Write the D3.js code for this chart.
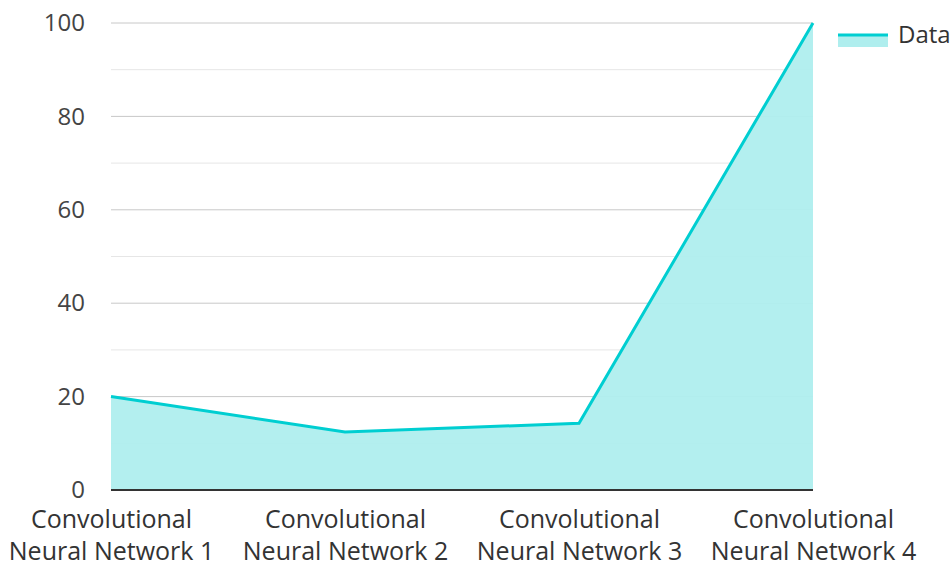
<!DOCTYPE html>
<html>
<head>
<meta charset="utf-8">
<script src="https://cdn.jsdelivr.net/npm/d3@7"></script>
<style>
  html, body { margin: 0; padding: 0; background: #fff; }
  svg text { font-family: "Open Sans", "Noto Sans", sans-serif; }
</style>
</head>
<body>
<svg id="chart" width="952" height="562"></svg>
<script>
// Model categories and their scores
const categories = [
  "Convolutional Neural Network 1",
  "Convolutional Neural Network 2",
  "Convolutional Neural Network 3",
  "Convolutional Neural Network 4"
];
const values = [20, 12.4, 14.3, 100];
const yTicks = [0, 20, 40, 60, 80, 100];
const yMinorTicks = [10, 30, 50, 70, 90];
const seriesName = "Data";

const svg = d3.select("#chart");
const margin = { left: 111, right: 139, top: 23, bottom: 72 };
const W = 952, H = 562;

const x = d3.scalePoint()
  .domain(categories)
  .range([margin.left, W - margin.right]);
const y = d3.scaleLinear()
  .domain([0, 100])
  .range([H - margin.bottom, margin.top]);

const lineColor = "#00CED1";
const fillColor = "#AFEEEE";

// minor gridlines
svg.append("g")
  .selectAll("line")
  .data(yMinorTicks)
  .join("line")
  .attr("x1", margin.left).attr("x2", W - margin.right)
  .attr("y1", d => y(d)).attr("y2", d => y(d))
  .attr("stroke", "#e6e6e6").attr("stroke-width", 1);

// major gridlines
svg.append("g")
  .selectAll("line")
  .data(yTicks.filter(d => d !== 0))
  .join("line")
  .attr("x1", margin.left).attr("x2", W - margin.right)
  .attr("y1", d => y(d)).attr("y2", d => y(d))
  .attr("stroke", "#c8c8c8").attr("stroke-width", 1);

// area fill
const area = d3.area()
  .x((d, i) => x(categories[i]))
  .y0(y(0))
  .y1(d => y(d));
svg.append("path")
  .datum(values)
  .attr("d", area)
  .attr("fill", fillColor)
  .attr("fill-opacity", 0.95);

// series line
const line = d3.line()
  .x((d, i) => x(categories[i]))
  .y(d => y(d));
svg.append("path")
  .datum(values)
  .attr("d", line)
  .attr("fill", "none")
  .attr("stroke", lineColor)
  .attr("stroke-width", 3)
  .attr("stroke-linejoin", "miter");

// baseline
svg.append("line")
  .attr("x1", margin.left).attr("x2", W - margin.right)
  .attr("y1", y(0)).attr("y2", y(0))
  .attr("stroke", "#333333").attr("stroke-width", 2);

// y tick labels
const yAxis = d3.axisLeft(y).tickValues(yTicks).tickSize(0).tickPadding(26);
const gy = svg.append("g")
  .attr("transform", `translate(${margin.left},0)`)
  .call(yAxis);
gy.select(".domain").remove();
gy.selectAll("text")
  .attr("font-size", 24)
  .attr("fill", "#444")
  .attr("font-family", "'Open Sans', 'Noto Sans', sans-serif");

// x tick labels, two lines each
const xAxis = d3.axisBottom(x).tickSize(0).tickFormat("");
const gx = svg.append("g")
  .attr("transform", `translate(0,${y(0)})`)
  .call(xAxis);
gx.select(".domain").remove();
gx.selectAll(".tick").each(function(d) {
  const words = d.split(" ");
  const lines = [words[0], words.slice(1).join(" ")];
  const t = d3.select(this).append("text")
    .attr("text-anchor", "middle")
    .attr("font-size", 25)
    .attr("fill", "#333")
    .attr("font-family", "'Open Sans', 'Noto Sans', sans-serif");
  t.selectAll("tspan")
    .data(lines)
    .join("tspan")
    .attr("x", 0)
    .attr("y", (l, i) => 38 + i * 32)
    .text(l => l);
});

// legend
const lg = svg.append("g").attr("transform", "translate(838,35)");
lg.append("rect")
  .attr("x", 0).attr("y", 0).attr("width", 50).attr("height", 12)
  .attr("fill", fillColor);
lg.append("line")
  .attr("x1", 0).attr("x2", 50).attr("y1", 0).attr("y2", 0)
  .attr("stroke", lineColor).attr("stroke-width", 3);
lg.append("text")
  .attr("x", 60).attr("y", 8)
  .attr("font-size", 24)
  .attr("fill", "#333")
  .text(seriesName);
</script>
</body>
</html>
